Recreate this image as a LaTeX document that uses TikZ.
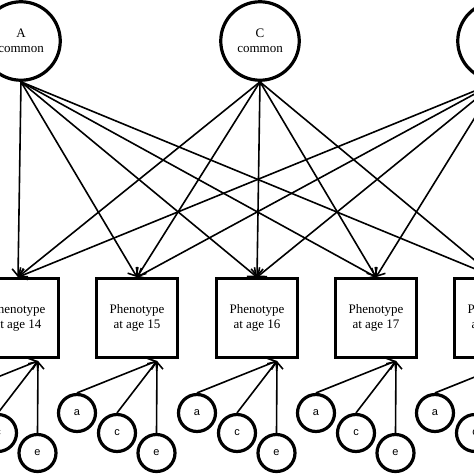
\documentclass[tikz,border=0pt]{standalone}
\usepackage{fontspec}
\setmainfont{Liberation Serif}
\newfontfamily\lettersf{Liberation Sans}
\usetikzlibrary{arrows.meta,calc}
\begin{document}
\begin{tikzpicture}[x=1pt,y=-1pt,
  bigc/.style={circle,draw,line width=3.2pt,minimum size=78.5pt,inner sep=0pt,align=center,
    font=\fontsize{13}{14.5}\selectfont},
  smallc/.style={circle,draw,line width=3.2pt,minimum size=37pt,inner sep=0pt,
    font=\lettersf\fontsize{11}{12}\selectfont},
  pbox/.style={rectangle,draw,line width=3.2pt,minimum width=80.5pt,minimum height=78.5pt,
    inner sep=0pt,align=center,font=\fontsize{13}{14.5}\selectfont},
  conn/.style={line width=1.6pt,-{Straight Barb[length=7pt,width=12pt,line width=1.6pt]}}]
\useasboundingbox (0,0) rectangle (474,474);
\clip (0,0) rectangle (474,474);
\node[bigc] (A) at (21,41) {A\\common};
\node[bigc] (C) at (260,41) {C\\common};
\node[bigc] (E) at (497,41) {};
\foreach \i/\x/\age in {1/18/14,2/137/15,3/257/16,4/376/17,5/495/18}{
  \node[pbox] (b\i) at (\x,318) {Phenotype\\at age \age};
  \node[smallc] (a\i) at (\x-60,413) {a};
  \node[smallc] (c\i) at (\x-20,433) {c};
  \node[smallc] (e\i) at (\x+19.5,453) {e};
  \coordinate (t\i) at ($(b\i.south)+(20,2)$);
}
\foreach \i in {1,...,5}{
  \foreach \t in {A,C,E}{
    \draw[conn] (\t.south) -- (b\i.north);
  }
  \draw[conn] (a\i.north) -- (t\i);
  \draw[conn] (c\i.north) -- (t\i);
  \draw[conn] (e\i.north) -- (t\i);
}
\end{tikzpicture}
\end{document}
